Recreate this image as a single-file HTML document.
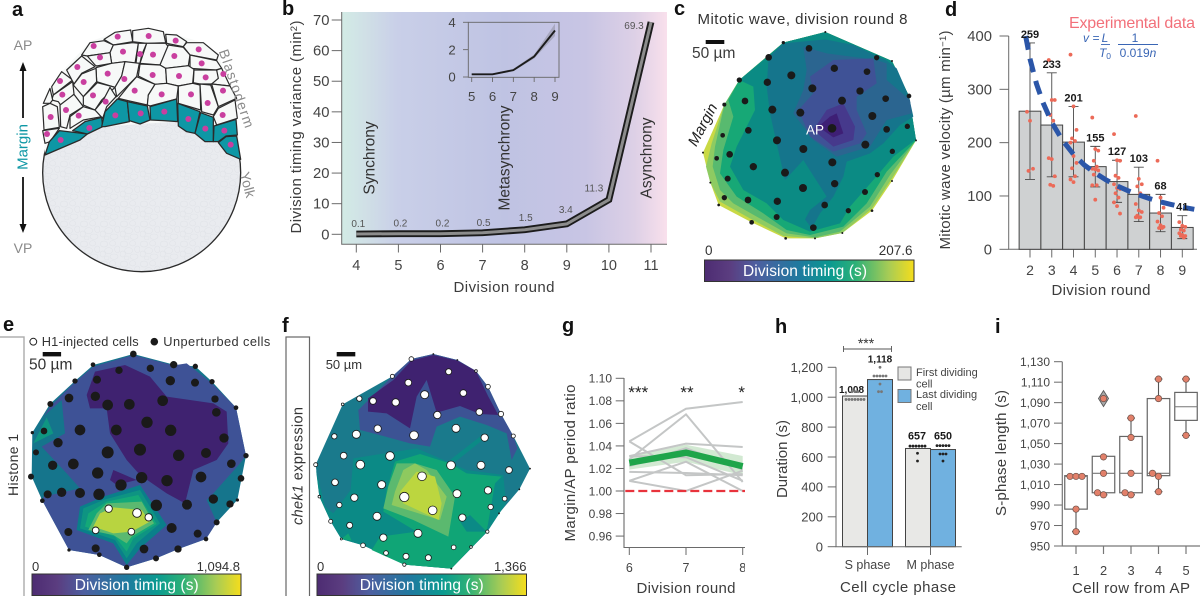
<!DOCTYPE html>
<html lang="en">
<head>
<meta charset="utf-8">
<title>Mitotic wave figure</title>
<style>
html,body{margin:0;padding:0;background:#fff;}
svg{display:block;font-family:"Liberation Sans",sans-serif;}
.cell{fill:#f7f9f8;stroke:#2b2b2b;stroke-width:3.6;stroke-linejoin:round;}
.tcell{fill:#0e97a5;stroke:#2b2b2b;stroke-width:3.8;stroke-linejoin:round;}
.nuc{fill:#c93f9f;}
.letter{font-size:20px;font-weight:700;fill:#111;}
.title{font-size:15px;fill:#3c3c3c;}
</style>
</head>
<body>
<svg id="fig" xmlns="http://www.w3.org/2000/svg" width="1200" height="596" viewBox="0 0 1200 596">
<defs>
<linearGradient id="bg-b" x1="0" x2="1" y1="0" y2="0">
<stop offset="0" stop-color="#d2ebe5"/><stop offset=".07" stop-color="#d0e0e6"/><stop offset=".17" stop-color="#c9cfe8"/><stop offset=".5" stop-color="#bfc3e3"/><stop offset=".75" stop-color="#c8c5e4"/><stop offset=".9" stop-color="#ddd0e6"/><stop offset="1" stop-color="#f9e0ec"/>
</linearGradient>
<linearGradient id="cbar" x1="0" x2="1" y1="0" y2="0">
<stop offset="0" stop-color="#4d2c72"/><stop offset=".12" stop-color="#5b3d80"/><stop offset=".25" stop-color="#4d5fa0"/><stop offset=".45" stop-color="#1f7a9f"/><stop offset=".6" stop-color="#0b9a90"/><stop offset=".72" stop-color="#2cb077"/><stop offset=".88" stop-color="#a8cc55"/><stop offset="1" stop-color="#f5dd1c"/>
</linearGradient>
<pattern id="yolk-tex" width="60" height="60" patternUnits="userSpaceOnUse">
<g fill="none" stroke="#dfe2e7" stroke-width="1.6">
<ellipse cx="12" cy="12" rx="11" ry="9"/><ellipse cx="38" cy="10" rx="9" ry="8"/><ellipse cx="52" cy="28" rx="8" ry="10"/><ellipse cx="26" cy="32" rx="12" ry="9"/><ellipse cx="8" cy="42" rx="8" ry="9"/><ellipse cx="42" cy="50" rx="12" ry="8"/><ellipse cx="20" cy="54" rx="7" ry="6"/>
</g>
</pattern>
<clipPath id="clip-g"><rect x="600" y="370" width="145" height="210"/></clipPath>
</defs>

<!-- PANEL A -->
<g>
<text class="letter" x="12" y="16">a</text>
<g transform="scale(0.33333)">
<circle cx="425" cy="518" r="297" fill="#e9ebef"/>
<circle cx="425" cy="518" r="297" fill="url(#yolk-tex)" stroke="#2b2b2b" stroke-width="4"/>
<polygon fill="#f7f9f8" points="135,465 128,320 185,215 270,125 345,97 445,85 530,105 610,128 655,165 690,258 712,355 722,478 655,428 585,400 533,365 420,372 315,380 262,402"/>
<g>
<polygon class="cell" points="312,118 345,97 392,90 398,125 340,135"/>
<polygon class="cell" points="398,92 445,85 490,95 497,128 440,130 398,125"/>
<polygon class="cell" points="497,103 530,105 560,125 550,140 500,130"/>
<polygon class="cell" points="560,128 610,128 655,165 650,180 570,165 550,140"/>
<polygon class="cell" points="312,122 340,135 330,158 262,168 245,165 270,128"/>
<polygon class="cell" points="340,135 398,128 415,130 405,190 375,185 335,190 330,158"/>
<polygon class="cell" points="415,130 440,130 425,165 420,190 408,190"/>
<polygon class="cell" points="440,130 497,130 505,140 480,195 420,190 430,160"/>
<polygon class="cell" points="505,135 550,142 570,165 565,197 497,205 480,195"/>
<polygon class="cell" points="570,165 650,182 665,205 648,210 570,205"/>
<polygon class="cell" points="262,168 330,158 335,190 290,198 285,195"/>
<polygon class="cell" points="335,190 375,185 365,228 345,262 290,245 288,203"/>
<polygon class="cell" points="375,185 418,190 410,230 385,255 350,290 345,262 365,228"/>
<polygon class="cell" points="420,192 480,195 497,205 500,250 465,253 415,228"/>
<polygon class="cell" points="497,205 565,197 582,208 578,250 535,258 500,250"/>
<polygon class="cell" points="582,210 650,210 660,240 635,252 600,252 580,248"/>
<polygon class="cell" points="650,210 665,205 690,258 635,252 655,235"/>
<polygon class="cell" points="155,260 185,215 218,240 160,285"/>
<polygon class="cell" points="200,210 245,168 285,200 245,220 222,252"/>
<polygon class="cell" points="245,222 288,205 290,245 250,290 220,255"/>
<polygon class="cell" points="160,285 218,245 222,282 185,320 175,305 155,300"/>
<polygon class="cell" points="292,248 345,262 305,300 285,330 250,315 250,290"/>
<polygon class="cell" points="180,315 222,283 250,320 210,345 200,385 182,380"/>
<polygon class="cell" points="250,320 285,330 305,350 250,360 210,385 210,350"/>
<polygon class="cell" points="330,262 348,290 320,320 308,355 285,330 310,300"/>
<polygon class="cell" points="128,320 150,310 172,320 178,382 132,390"/>
<polygon class="cell" points="130,310 150,265 158,300 150,310"/>
<polygon class="cell" points="410,230 465,253 445,285 442,315 385,302 355,295 385,258"/>
<polygon class="cell" points="465,253 500,250 535,258 530,297 450,318 442,315 445,285"/>
<polygon class="cell" points="535,258 578,250 600,255 602,330 535,310"/>
<polygon class="cell" points="600,252 632,255 655,320 640,345 605,335"/>
<polygon class="cell" points="635,252 690,258 710,295 655,320"/>
<polygon class="cell" points="655,325 705,300 712,355 650,375 640,350"/>
<polygon class="cell" points="128,392 178,385 150,425 135,430"/>
</g>
<g>
<polygon class="tcell" points="135,465 148,425 178,392 262,402 240,420"/>
<polygon class="tcell" points="218,392 255,365 305,352 308,380 262,402"/>
<polygon class="tcell" points="305,380 315,335 352,297 382,305 388,365 315,380"/>
<polygon class="tcell" points="382,305 442,318 450,360 420,372 388,362"/>
<polygon class="tcell" points="450,320 530,297 533,365 490,362 452,360"/>
<polygon class="tcell" points="533,310 600,335 585,400 560,395 535,378"/>
<polygon class="tcell" points="602,338 640,352 640,425 615,425 585,400"/>
<polygon class="tcell" points="642,378 708,358 712,405 678,408 655,425 640,425"/>
<polygon class="tcell" points="678,410 710,408 722,478 680,460 655,428"/>
</g>
<g>
<circle class="nuc" r="9" cx="353" cy="110"/><circle class="nuc" r="9" cx="446" cy="108"/><circle class="nuc" r="9" cx="527" cy="122"/><circle class="nuc" r="9" cx="596" cy="148"/><circle class="nuc" r="9" cx="281" cy="138"/><circle class="nuc" r="9" cx="369" cy="155"/><circle class="nuc" r="9" cx="420" cy="162"/><circle class="nuc" r="9" cx="459" cy="164"/><circle class="nuc" r="9" cx="523" cy="168"/><circle class="nuc" r="9" cx="605" cy="190"/><circle class="nuc" r="9" cx="300" cy="172"/><circle class="nuc" r="9" cx="232" cy="201"/><circle class="nuc" r="9" cx="323" cy="221"/><circle class="nuc" r="9" cx="373" cy="237"/><circle class="nuc" r="9" cx="458" cy="225"/><circle class="nuc" r="9" cx="537" cy="228"/><circle class="nuc" r="9" cx="617" cy="232"/><circle class="nuc" r="9" cx="670" cy="222"/><circle class="nuc" r="9" cx="180" cy="243"/><circle class="nuc" r="9" cx="251" cy="246"/><circle class="nuc" r="9" cx="187" cy="284"/><circle class="nuc" r="9" cx="279" cy="286"/><circle class="nuc" r="9" cx="317" cy="305"/><circle class="nuc" r="9" cx="404" cy="272"/><circle class="nuc" r="9" cx="485" cy="283"/><circle class="nuc" r="9" cx="573" cy="283"/><circle class="nuc" r="9" cx="669" cy="272"/><circle class="nuc" r="9" cx="623" cy="309"/><circle class="nuc" r="9" cx="198" cy="330"/><circle class="nuc" r="9" cx="236" cy="347"/><circle class="nuc" r="9" cx="152" cy="351"/><circle class="nuc" r="9" cx="668" cy="345"/><circle class="nuc" r="9" cx="141" cy="402"/><circle class="nuc" r="9" cx="182" cy="420"/><circle class="nuc" r="9" cx="268" cy="384"/><circle class="nuc" r="9" cx="346" cy="346"/><circle class="nuc" r="9" cx="422" cy="340"/><circle class="nuc" r="9" cx="493" cy="335"/><circle class="nuc" r="9" cx="565" cy="357"/><circle class="nuc" r="9" cx="616" cy="386"/><circle class="nuc" r="9" cx="673" cy="392"/><circle class="nuc" r="9" cx="692" cy="434"/>
</g>
</g>
<text x="23" y="50" font-size="14" fill="#8a8a8a" text-anchor="middle">AP</text>
<text x="23" y="253" font-size="14" fill="#8a8a8a" text-anchor="middle">VP</text>
<text transform="translate(27.5 147) rotate(-90)" font-size="15" fill="#0e97a5" text-anchor="middle">Margin</text>
<g fill="#111" stroke="#111">
<line x1="23" y1="118" x2="23" y2="68" stroke-width="1.8"/><polygon points="23,62 19.5,71 26.5,71" stroke="none"/>
<line x1="23" y1="177" x2="23" y2="227" stroke-width="1.8"/><polygon points="23,233 19.5,224 26.5,224" stroke="none"/>
</g>
<text transform="translate(232 90) rotate(71)" font-size="14" fill="#8a8a8a" text-anchor="middle" textLength="82">Blastoderm</text>
<text transform="translate(243 186) rotate(75)" font-size="14" fill="#8a8a8a" text-anchor="middle">Yolk</text>
</g>

<!-- PANEL B -->
<g id="panel-b">
<text class="letter" x="282" y="15">b</text>
<rect x="342" y="12" width="325" height="232" fill="url(#bg-b)"/>
<text transform="translate(374.5 158) rotate(-90)" font-size="15.5" fill="#333" text-anchor="middle">Synchrony</text>
<text transform="translate(509.5 158) rotate(-90)" font-size="15.5" fill="#333" text-anchor="middle">Metasynchrony</text>
<text transform="translate(651.5 158) rotate(-90)" font-size="15.5" fill="#333" text-anchor="middle">Asynchrony</text>
<text class="title" transform="translate(301 127) rotate(-90)" text-anchor="middle" textLength="213">Division timing variance (min<tspan dy="-4" font-size="9.5">2</tspan><tspan dy="4">)</tspan></text>
<text class="title" x="504" y="292" text-anchor="middle" textLength="101">Division round</text>
</g>

<!-- PANEL C -->
<g id="panel-c">
<text class="letter" x="674" y="15">c</text>
<text x="697.5" y="24" font-size="15" fill="#333" textLength="210">Mitotic wave, division round 8</text>
<g transform="translate(670 0) scale(0.33333)">
<polygon fill="#c9d945" points="466,96 340,128 208,240 163,314 99,458 121,548 146,615 245,667 347,715 435,715 517,699 606,632 666,543 738,421 717,288 666,183"/>
<polygon fill="#8ecb62" points="466,96 340,128 208,240 163,314 125,430 108,500 121,548 150,605 245,658 340,708 435,715 517,699 606,625 666,535 738,421 717,288 666,183"/>
<polygon fill="#58ba6f" points="466,96 340,128 208,240 163,314 135,440 128,500 150,570 190,610 260,650 350,700 435,712 510,695 600,620 660,525 738,421 717,288 666,183"/>
<polygon fill="#17a876" points="466,96 340,128 208,240 175,300 190,350 160,450 150,520 200,590 280,640 350,690 420,705 520,680 590,610 650,515 738,421 717,288 666,183"/>
<polygon fill="#0b8b84" points="466,96 340,128 290,172 208,240 250,260 255,330 240,360 200,440 180,500 220,570 290,610 340,660 420,695 510,670 540,620 610,540 670,470 738,418 717,288 666,183"/>
<polygon fill="#15758c" points="296,172 340,130 466,118 550,135 650,182 680,205 717,290 730,350 690,375 640,430 600,460 530,485 520,530 490,590 450,640 425,685 405,658 420,630 470,590 400,480 345,540 320,430 300,340 290,260"/>
<polygon fill="#2b6590" points="400,140 470,160 620,180 650,190 650,240 720,300 725,340 650,360 600,440 500,470 430,420 370,340 400,270 410,210"/>
<polygon fill="#3f5296" points="420,230 490,180 610,175 620,250 560,290 560,330 590,400 570,430 490,455 420,410 385,330 430,280"/>
<polygon fill="#46398c" points="520,310 555,380 550,420 490,440 430,390 470,330"/>
<polygon fill="#3e1f75" points="500,340 520,400 490,412 445,380 480,350"/>
</g>
<rect x="705.7" y="40" width="18.6" height="4" fill="#111"/>
<text class="title" x="692" y="58" style="font-size:15.5px">50 µm</text>
<text transform="translate(707 127) rotate(-62)" font-size="15" font-style="italic" fill="#222" text-anchor="middle">Margin</text>
<g id="c-dots"></g>
<text x="815" y="131" font-size="13.5" fill="#fff" text-anchor="middle" dominant-baseline="middle">AP</text>
<text x="705" y="255" font-size="13.5" fill="#333">0</text>
<text x="912.5" y="255" font-size="13.5" fill="#333" text-anchor="end">207.6</text>
<rect x="704.5" y="260" width="209.5" height="21.5" fill="url(#cbar)" stroke="#333" stroke-width="1"/>
<text x="805" y="276" font-size="15.5" fill="#fff" text-anchor="middle" textLength="124">Division timing (s)</text>
</g>

<!-- PANEL D -->
<g id="panel-d">
<text class="letter" x="945" y="16">d</text>
<text class="title" transform="translate(950 140) rotate(-90)" text-anchor="middle" textLength="219">Mitotic wave velocity (µm min<tspan dy="-4" font-size="9.5">−1</tspan><tspan dy="4">)</tspan></text>
<text class="title" x="1101" y="295" text-anchor="middle" textLength="99">Division round</text>
<text x="1069" y="28" font-size="16" fill="#f2707a" textLength="126">Experimental data</text>
<g fill="#3a66b5" font-size="12">
<text x="1083" y="42" font-style="italic">v =</text>
<text x="1105" y="42" font-style="italic" text-anchor="middle">L</text>
<line x1="1101" x2="1110" y1="44.5" y2="44.5" stroke="#3a66b5" stroke-width=".9"/>
<text x="1105" y="57" font-style="italic" text-anchor="middle">T<tspan font-size="8.5" dy="2" font-style="normal">0</tspan></text>
<text x="1135" y="42" text-anchor="middle">1</text>
<line x1="1118" x2="1158" y1="44.5" y2="44.5" stroke="#3a66b5" stroke-width=".9"/>
<text x="1138" y="57" text-anchor="middle">0.019<tspan font-style="italic">n</tspan></text>
</g>
</g>

<!-- PANEL E -->
<g id="panel-e">
<text class="letter" x="3" y="331">e</text>
<rect x="-2" y="337" width="26" height="262" fill="#fff" stroke="#aaa" stroke-width="1.4"/>
<text transform="translate(18 465) rotate(-90)" font-size="14" fill="#333" text-anchor="middle" textLength="62">Histone 1</text>
<g transform="translate(0 300) scale(0.33333)">
<polygon fill="#15758c" points="400,162 280,195 225,243 150,312 97,398 95,530 127,602 207,750 298,765 380,802 468,775 535,747 618,717 650,667 712,600 738,467 708,323 636,245 586,199 521,194"/>
<polygon fill="#0f9682" points="140,352 100,430 160,400"/>
<polygon fill="#3e5296" points="400,165 280,200 225,246 150,320 130,350 185,300 195,400 125,440 200,520 240,565 130,590 127,602 207,750 298,765 380,802 468,775 535,747 618,717 650,667 620,600 640,580 720,490 738,467 708,323 636,250 560,190 521,196"/>
<polygon fill="#3f2270" points="375,195 285,215 260,285 270,325 320,325 330,400 380,480 420,525 500,580 555,610 580,510 650,480 685,430 680,335 640,310 500,290 450,230"/>
<polygon fill="#3f2270" points="340,510 410,540 350,555 330,540"/>
<polygon fill="#0a7f8a" points="420,555 500,675 420,745 380,795 340,730 230,690 240,620 310,590"/>
<polygon fill="#0e9482" points="420,570 480,670 410,730 380,775 345,720 240,685 250,625 315,598"/>
<polygon fill="#14a978" points="415,585 470,672 400,715 380,755 345,710 255,680 265,640 320,605"/>
<polygon fill="#5bb970" points="425,605 462,670 395,710 380,730 340,705 265,690 290,640 320,610"/>
<polygon fill="#b8d440" points="340,622 425,630 450,665 395,695 340,700 280,680 300,640"/>
</g>
<g id="e-dots"></g>
<circle cx="33.3" cy="341.7" r="3.4" fill="#fff" stroke="#222" stroke-width="1"/>
<text x="41.7" y="346" font-size="12.8" fill="#333" textLength="97">H1-injected cells</text>
<circle cx="154.3" cy="341.7" r="3.8" fill="#1a1a1a"/>
<text x="163.3" y="346" font-size="12.8" fill="#333" textLength="107">Unperturbed cells</text>
<rect x="42.7" y="352" width="18.4" height="4.4" fill="#111"/>
<text x="29" y="369.5" font-size="15.5" fill="#333">50 µm</text>
<text x="32" y="571" font-size="13" fill="#333">0</text>
<text x="240" y="571" font-size="13" fill="#333" text-anchor="end">1,094.8</text>
<rect x="32" y="574" width="209" height="21.5" fill="url(#cbar)" stroke="#333" stroke-width="1"/>
<text x="136.7" y="590" font-size="15.5" fill="#fff" text-anchor="middle" textLength="124">Division timing (s)</text>
</g>

<!-- PANEL F -->
<g id="panel-f">
<text class="letter" x="282" y="332">f</text>
<rect x="286" y="337" width="23.5" height="262" fill="#fff" stroke="#666" stroke-width="1.2"/>
<text transform="translate(302.5 466) rotate(-90)" font-size="14.5" fill="#333" text-anchor="middle" textLength="118"><tspan font-style="italic">chek1</tspan> expression</text>
<g transform="translate(280 300) scale(0.33333)">
<polygon fill="#1a7a8c" points="394,177 460,162 532,180 588,213 624,260 663,342 700,408 750,506 718,568 657,640 622,695 514,806 373,794 250,736 184,717 152,664 118,590 107,494 188,313 337,229"/>
<polygon fill="#3c5394" points="337,229 394,177 460,162 532,180 588,213 624,260 663,342 700,408 712,445 695,480 680,400 620,375 540,350 470,380 450,440 390,430 280,400 240,390 235,330"/>
<polygon fill="#3f2270" points="264,295 340,240 394,182 460,165 532,182 588,213 625,290 655,345 600,342 540,318 470,338 440,240 410,290 390,385 320,340 264,335"/>
<polygon fill="#0b8a86" points="108,510 135,620 160,640 212,570 220,475 410,445 515,490 560,510 670,525 678,610 622,695 514,806 373,794 250,736 184,717 152,664 118,590"/>
<polygon fill="#0b8a86" points="510,480 600,410 608,420 520,490"/>
<polygon fill="#10a576" points="345,485 420,462 510,490 560,520 665,530 645,550 620,695 514,806 373,794 275,750 300,710 410,695 310,635 320,570"/>
<polygon fill="#0b8a86" points="540,665 570,645 620,695 560,695"/>
<polygon fill="#10a576" points="184,717 205,700 215,722"/>
<polygon fill="#5bb96f" points="350,490 405,490 470,510 525,590 505,710 400,660 310,625 325,560"/>
<polygon fill="#8ec95f" points="370,510 405,490 440,510 500,590 480,660 335,615 345,575"/>
<polygon fill="#bcd63f" points="410,515 465,530 485,610 476,660 370,610 360,575"/>
</g>
<g id="f-dots"></g>
<rect x="336.7" y="352" width="18.6" height="4.4" fill="#111"/>
<text x="325.7" y="369" font-size="13" fill="#333">50 µm</text>
<text x="317" y="571" font-size="13" fill="#333">0</text>
<text x="526.5" y="571" font-size="13" fill="#333" text-anchor="end">1,366</text>
<rect x="317" y="574" width="209.5" height="21.5" fill="url(#cbar)" stroke="#333" stroke-width="1"/>
<text x="421.7" y="590" font-size="15.5" fill="#fff" text-anchor="middle" textLength="124">Division timing (s)</text>
</g>

<!-- PANEL G -->
<g id="panel-g">
<text class="letter" x="562" y="332">g</text>
<text class="title" transform="translate(575 463) rotate(-90)" text-anchor="middle" textLength="157">Margin/AP period ratio</text>
<text class="title" x="686" y="593" text-anchor="middle" textLength="99">Division round</text>
</g>

<!-- PANEL H -->
<g id="panel-h">
<text class="letter" x="775" y="333">h</text>
<text class="title" transform="translate(787 459) rotate(-90)" text-anchor="middle" textLength="78">Duration (s)</text>
<text class="title" x="898" y="592" text-anchor="middle" textLength="116">Cell cycle phase</text>
<path d="M843.5 352V346M843.5 349H891.5M891.5 352V346" fill="none" stroke="#555" stroke-width=".9"/>
<text x="866" y="348" font-size="14" fill="#333" text-anchor="middle">***</text>
<rect x="898" y="367" width="13" height="13" fill="#e6e6e4" stroke="#777"/>
<rect x="898" y="389.5" width="13" height="13" fill="#70b1e0" stroke="#777"/>
<text font-size="11" fill="#444" x="916" y="376">First dividing<tspan x="916" dy="11.5">cell</tspan></text>
<text font-size="11" fill="#444" x="916" y="398">Last dividing<tspan x="916" dy="12">cell</tspan></text>
</g>

<!-- PANEL I -->
<g id="panel-i">
<text class="letter" x="995" y="333">i</text>
<text class="title" transform="translate(1006 453) rotate(-90)" text-anchor="middle" textLength="126">S-phase length (s)</text>
<text class="title" x="1131" y="593" text-anchor="middle" textLength="118">Cell row from AP</text>
</g>
</svg>

<script>
/* ---------- panel b data ---------- */
var bRounds = [4,5,6,7,8,9,10,11];
var bVariance = [0.1,0.2,0.2,0.5,1.5,3.4,11.3,69.3];
var bValueLabels = ['0.1','0.2','0.2','0.5','1.5','3.4','11.3','69.3'];
var bYTicks = [0,10,20,30,40,50,60,70];
var insetRounds = [5,6,7,8,9];
var insetVariance = [0.2,0.2,0.5,1.5,3.4];
var insetLow = [0.15,0.15,0.42,1.35,3.0];
var insetHigh = [0.25,0.25,0.6,1.65,3.9];
var insetYTicks = [0,2,4];

/* ---------- panel c/e/f cell positions (field coordinates) and nucleus sizes ---------- */
var cFieldX = [466,340,417,296,620,666,493,364,591,208,292,427,570,717,225,163,516,647,307,391,607,486,650,712,235,158,321,738,400,586,667,99,179,140,487,250,345,622,173,121,494,666,399,585,163,234,322,464,146,535,606,320,245,430,517,347,435];
var cFieldY = [96,128,145,172,173,183,205,226,215,240,247,265,273,288,303,314,302,296,329,338,348,385,388,379,391,406,421,421,447,434,454,458,463,475,487,500,518,524,536,548,551,543,564,576,593,600,604,615,615,632,632,651,667,683,699,715,715];
var cNucleus = [3,5,10,10,8,3,11,12,10,8,11,12,11,7,10,6,12,10,12,12,12,13,10,8,10,7,12,3,12,12,8,3,10,7,12,11,12,8,9,3,11,3,12,9,8,10,11,10,4,8,4,9,7,10,3,4,3];

var eFieldX = [400,279,357,451,521,586,225,291,511,585,636,207,286,645,151,323,388,488,708,649,97,132,240,349,441,512,672,174,420,323,536,618,108,738,158,220,694,293,93,425,501,603,723,363,143,185,240,297,127,469,561,640,690,712,650,515,205,593,618,287,432,534,207,298,468,380];
var eFieldY = [162,194,211,205,194,199,243,239,242,248,245,294,289,297,312,315,313,302,323,337,398,393,390,390,367,391,414,428,449,457,466,459,457,467,496,492,491,519,530,533,542,531,535,555,583,577,579,583,602,616,614,597,612,600,667,684,696,701,717,745,747,747,750,764,775,802];
var eNucleus = [10,7,11,11,11,8,8,12,14,12,8,13,14,11,9,16,16,16,7,13,5,10,16,16,17,17,14,14,18,18,17,15,9,8,14,16,13,17,9,17,17,16,10,17,12,14,15,17,7,17,15,14,11,5,9,15,12,12,7,12,13,11,5,7,9,8];
var eInjectedX = [326,411,446,287,394];
var eInjectedY = [626,639,652,691,695];
var eInjectedNucleus = [11,13,11,10,10];

var fFieldX = [394,506,337,385,624,434,550,238,279,347,188,598,663,472,293,528,229,402,163,614,700,191,330,107,241,513,603,687,426,165,305,531,624,373,223,118,674,178,632,458,291,547,152,209,622,414,310,184,249,521,573,318,378,445,373,588];
var fFieldY = [177,215,229,248,260,284,279,296,303,307,313,336,342,345,386,385,403,406,409,413,408,467,468,494,494,496,496,510,529,547,554,581,571,591,593,590,596,615,621,631,649,653,664,676,695,700,713,717,736,742,741,759,769,773,794,213];
var fNucleus = [7,9,6,10,7,12,10,8,10,11,4,10,8,11,11,12,12,13,8,11,6,10,13,6,13,13,12,10,13,10,12,12,11,14,11,4,7,8,8,13,12,11,6,9,5,12,11,3,7,7,4,7,9,9,5,4];
var fDimX = [460,532,750,718,657,514];
var fDimY = [162,180,506,568,640,806];

/* ---------- panel d data ---------- */
var dRounds = [2,3,4,5,6,7,8,9];
var dMeans = [259,233,201,155,127,103,68,41];
var dErrLow = [131,136,136,117,88,52,33,20];
var dErrHigh = [387,331,268,193,167,154,103,63];
var dYTicks = [0,100,200,300,400];
var dScatter2 = [258,241,151,147];
var dScatter3 = [355,280,280,252,241,171,169,137,121,119];
var dScatter4 = [365,268,224,208,203,200,175,162,152,137,131,126];
var dScatter5 = [247,188,185,166,155,151,150,148,140,120,120,93];
var dScatter6 = [216,167,166,138,134,122,115,113,105,97,88,81,67];
var dScatter7 = [250,132,122,118,105,85,73,70,63,60,60,60];
var dScatter8 = [166,97,78,68,62,52,45,42,40,40];
var dScatter9 = [51,44,42,37,35,30,27,25,25,22];
var dFitRounds = [1.8,2,2.3,2.6,3,3.5,4,4.5,5,5.5,6,6.5,7,7.5,8,8.5,9,9.55];
var dFitValues = [400,357,310,275,238,204,178,158,143,130,119,110,102,95,89,84,79,75];

/* ---------- panel g data ---------- */
var gRounds = [6,7,8];
var gYTicks = [0.96,0.98,1.00,1.02,1.04,1.06,1.08,1.10];
var gEmbryoA = [1.044,1.073,1.079];
var gEmbryoB = [1.028,1.068,1.008];
var gEmbryoC = [1.044,1.014,1.015];
var gEmbryoD = [1.031,1.042,1.039];
var gEmbryoE = [1.031,1.030,1.009];
var gEmbryoF = [1.017,1.016,1.014];
var gEmbryoG = [1.009,1.026,1.000];
var gEmbryoH = [1.009,1.000,1.018];
var gEmbryoI = [1.022,1.038,1.019];
var gMean = [1.025,1.034,1.022];
var gBandLow = [1.019,1.026,1.014];
var gBandHigh = [1.031,1.041,1.031];
var gStars = ['***','**','*'];

/* ---------- panel h data ---------- */
var hPhases = ['S phase','M phase'];
var hYTicks = [0,200,400,600,800,1000,1200];
var hTickLabels = ['0','200','400','600','800','1,000','1,200'];
var hFirstMeans = [1008,657];
var hLastMeans = [1118,650];
var hFirstLabels = ['1,008','657'];
var hLastLabels = ['1,118','650'];
var hSFirst = [985,985,985,985,985,985,985,1037,1037,1037];
var hSLast = [1200,1142,1142,1142,1142,1142,1088,1037,1037];
var hMFirst = [673,673,673,673,673,673,625,573];
var hMLast = [676,676,676,676,676,620,620,620,573];

/* ---------- panel i data ---------- */
var iRows = [1,2,3,4,5];
var iYTicks = [950,970,990,1010,1030,1050,1070,1090,1110,1130];
var iTickLabels = ['950','970','990','1,010','1,030','1,050','1,070','1,090','1,110','1,130'];
var iQ1 = [986,1002,1002,1018.7,1072.7];
var iMedian = [1018,1021,1021,1021,1086];
var iQ3 = [1018.7,1037.6,1057,1094,1100];
var iWhiskLow = [964,1000,1000,1003,1058];
var iWhiskHigh = [1018.7,1037.6,1075,1113,1113];
var iRow1 = [1018,1018,1018,986,964];
var iRow2 = [1094,1037,1021,1002,1000];
var iRow3 = [1075,1056,1021,1002,1000];
var iRow4 = [1113,1094,1021,1018,1003];
var iRow5 = [1113,1058];
var iOutlierRows = [2];
var iOutlierValues = [1094];

/* ---------- helpers ---------- */
var NS = 'http://www.w3.org/2000/svg';
var svgRoot = document.getElementById('fig');
function mk(tag, parent, attrs){
  var n = document.createElementNS(NS, tag);
  for (var k in attrs) n.setAttribute(k, attrs[k]);
  parent.appendChild(n);
  return n;
}
function label(parent, x, y, s, size, fill, anchor, weight){
  var t = mk('text', parent, {x:x, y:y, 'font-size':size, fill:fill, 'text-anchor':anchor||'middle'});
  if (weight) t.setAttribute('font-weight', weight);
  t.textContent = s;
  return t;
}
function pathFrom(xs, ys, fx, fy){
  return xs.map(function(v,i){return (i?'L':'M')+fx(v).toFixed(2)+' '+fy(ys[i]).toFixed(2);}).join('');
}
function linear(d0,d1,r0,r1){return function(v){return r0+(v-d0)*(r1-r0)/(d1-d0);};}

var TICK = '#6a6a6a', LABEL = '#444';

/* ---------- panel b ---------- */
(function(){
  var g = document.getElementById('panel-b');
  var fx = linear(4,11,356.3,651), fy = linear(0,70,234.3,20);
  var axes = mk('path', g, {d:'M341.7 12V244.3H667', fill:'none', stroke:TICK, 'stroke-width':1});
  
  
  bYTicks.forEach(function(v){
    var t = mk('line', g, {x1:331.7, x2:341.7, y1:fy(v), y2:fy(v), stroke:TICK, 'stroke-width':1});
    
    
    var l = label(g, 329.5, fy(v)+5, String(v), 14.8, LABEL, 'end');
    
    
  });
  bRounds.forEach(function(v){
    var t = mk('line', g, {x1:fx(v), x2:fx(v), y1:244.3, y2:252.5, stroke:TICK, 'stroke-width':1});
    
    
    var l = label(g, fx(v), 270, String(v), 14.5, LABEL);
    
    
  });
  var d = pathFrom(bRounds, bVariance, fx, fy);
  var outer = mk('path', g, {d:d, fill:'none', stroke:'#1c1c1c', 'stroke-width':6.8, 'stroke-linejoin':'miter'});
  
  
  var inner = mk('path', g, {d:d, fill:'none', stroke:'#8c8c8c', 'stroke-width':3, 'stroke-linejoin':'miter'});
  
  
  bRounds.forEach(function(r,i){
    var isLast = i === bRounds.length-1, is10 = i === bRounds.length-2;
    var lx = isLast ? fx(r)-17 : is10 ? fx(r)-15 : fx(r)+(i<3?2:i<5?1:-1);
    var ly = isLast ? fy(bVariance[i])+7 : is10 ? fy(bVariance[i])-8 : fy(bVariance[i])-7-(i>=4?bVariance[i]*1.2:0);
    var l = label(g, lx, ly, bValueLabels[i], 10, '#555');
    
    
  });
  /* inset */
  var ix = linear(5,9,471.7,555), iy = linear(0,4,77,22.3);
  var inset = mk('g', g, {});
  
  
  var frame = mk('rect', inset, {x:468.3, y:22.3, width:90.7, height:55, fill:'none', stroke:'#666', 'stroke-width':.9});
  
  
  var upper = insetRounds.map(function(v,i){return ix(v).toFixed(2)+','+iy(insetHigh[i]).toFixed(2);});
  var lower = insetRounds.map(function(v,i){return ix(v).toFixed(2)+','+iy(insetLow[i]).toFixed(2);}).reverse();
  var band = mk('polygon', inset, {points:upper.concat(lower).join(' '), fill:'#8f8f9e', 'fill-opacity':.55});
  
  
  var il = mk('path', inset, {d:pathFrom(insetRounds, insetVariance, ix, iy), fill:'none', stroke:'#1c1c1c', 'stroke-width':1.9});
  
  
  insetYTicks.forEach(function(v){
    var t = mk('line', inset, {x1:463, x2:468.3, y1:iy(v), y2:iy(v), stroke:TICK, 'stroke-width':.9});
    
    
    var l = label(inset, 452, iy(v)+4.7, String(v), 13.2, LABEL);
    
    
  });
  insetRounds.forEach(function(v){
    var t = mk('line', inset, {x1:ix(v), x2:ix(v), y1:77.3, y2:82, stroke:TICK, 'stroke-width':.9});
    
    
    var l = label(inset, ix(v), 101, String(v), 13.2, LABEL);
    
    
  });
})();

/* ---------- contour map dots ---------- */
function mapX(ox){return function(v){return ox+v/3;};}
function mapY(oy){return function(v){return oy+v/3;};}
(function(){
  var cg = document.getElementById('c-dots');
  var fx = mapX(670), fy = mapY(0);
  cFieldX.forEach(function(v,i){
    var c = mk('circle', cg, {cx:fx(v), cy:fy(cFieldY[i]), r:cNucleus[i]/3, fill:'#1a1a1a'});
    
    
  });
  var eg = document.getElementById('e-dots');
  var ex = mapX(0), ey = mapY(300);
  eFieldX.forEach(function(v,i){
    var c = mk('circle', eg, {cx:ex(v), cy:ey(eFieldY[i]), r:eNucleus[i]/3, fill:'#1a1a1a'});
    
    
  });
  eInjectedX.forEach(function(v,i){
    var c = mk('circle', eg, {cx:ex(v), cy:ey(eInjectedY[i]), r:eInjectedNucleus[i]/3, fill:'#fff', stroke:'#1a1a1a', 'stroke-width':.9});
    
    
  });
  var fg = document.getElementById('f-dots');
  var gx = mapX(280), gy = mapY(300);
  fFieldX.forEach(function(v,i){
    var c = mk('circle', fg, {cx:gx(v), cy:gy(fFieldY[i]), r:fNucleus[i]/3, fill:'#fff', stroke:'#1a1a1a', 'stroke-width':.8});
    
    
  });
  fDimX.forEach(function(v,i){
    var c = mk('circle', fg, {cx:gx(v), cy:gy(fDimY[i]), r:.9, fill:'#1a1a1a'});
    
    
  });
})();

/* ---------- panel d ---------- */
(function(){
  var g = document.getElementById('panel-d');
  var fx = linear(2,9,1030,1182.3), fy = linear(0,400,249.3,36), bw = 21.76;
  var axes = mk('path', g, {d:'M1008.7 36V249.3H1197', fill:'none', stroke:TICK, 'stroke-width':1});
  
  
  dYTicks.forEach(function(v){
    var t = mk('line', g, {x1:999.5, x2:1008.7, y1:fy(v), y2:fy(v), stroke:TICK, 'stroke-width':1});
    
    
    var l = label(g, 992, fy(v)+5, String(v), 14.8, LABEL, 'end');
    
    
  });
  dRounds.forEach(function(r,i){
    var t = mk('line', g, {x1:fx(r), x2:fx(r), y1:249.3, y2:257.5, stroke:TICK, 'stroke-width':1});
    
    
    var tl = label(g, fx(r), 275, String(r), 14, LABEL);
    
    
    var b = mk('rect', g, {x:fx(r)-bw/2, y:fy(dMeans[i]), width:bw, height:fy(0)-fy(dMeans[i]), fill:'#cfd1d2', stroke:'#444', 'stroke-width':1});
    
    
  });
  dRounds.forEach(function(r,i){
    var e = mk('path', g, {d:'M'+(fx(r)-5)+' '+fy(dErrLow[i])+'h10M'+fx(r)+' '+fy(dErrLow[i])+'V'+fy(dErrHigh[i])+'M'+(fx(r)-5)+' '+fy(dErrHigh[i])+'h10', fill:'none', stroke:'#4a4a4a', 'stroke-width':.9});
    
    
  });
  var scatters = [dScatter2,dScatter3,dScatter4,dScatter5,dScatter6,dScatter7,dScatter8,dScatter9];
  scatters.forEach(function(arr,k){
    arr.forEach(function(v,i){
      var off = ((i*7)%5-2)*1.5;
      var c = mk('circle', g, {cx:fx(dRounds[k])+off, cy:fy(v), r:1.9, fill:'#ec6a58'});
      
      
    });
  });
  var fit = mk('path', g, {d:pathFrom(dFitRounds, dFitValues, fx, fy), fill:'none', stroke:'#2b56a8', 'stroke-width':5, 'stroke-dasharray':'14 9'});
  
  
  dRounds.forEach(function(r,i){
    var l = label(g, fx(r), fy(dErrHigh[i])-5, String(dMeans[i]), 11, '#1a1a1a', 'middle', '700');
    
    
  });
})();

/* ---------- panel g ---------- */
(function(){
  var g = document.getElementById('panel-g');
  var fx = linear(6,8,629.3,742.7), fy = linear(1,1.1,491,378.3);
  var clip = mk('g', g, {'clip-path':'url(#clip-g)'});
  
  
  var axes = mk('path', clip, {d:'M624 378V547.5H745', fill:'none', stroke:TICK, 'stroke-width':1.1});
  
  
  gYTicks.forEach(function(v){
    var t = mk('line', g, {x1:615.7, x2:624, y1:fy(v), y2:fy(v), stroke:TICK, 'stroke-width':1});
    
    
    var l = label(g, 612, fy(v)+4.4, v.toFixed(2), 12, LABEL, 'end');
    
    
  });
  gRounds.forEach(function(r){
    var t = mk('line', clip, {x1:fx(r), x2:fx(r), y1:547.5, y2:555, stroke:TICK, 'stroke-width':1});
    
    
    var l = label(clip, fx(r), 572, String(r), 12.5, LABEL);
    
    
  });
  var upper = gRounds.map(function(r,i){return fx(r).toFixed(2)+','+fy(gBandHigh[i]).toFixed(2);});
  var lower = gRounds.map(function(r,i){return fx(r).toFixed(2)+','+fy(gBandLow[i]).toFixed(2);}).reverse();
  var band = mk('polygon', clip, {points:upper.concat(lower).join(' '), fill:'#bfe0bf', 'fill-opacity':.7});
  
  
  [gEmbryoA,gEmbryoB,gEmbryoC,gEmbryoD,gEmbryoE,gEmbryoF,gEmbryoG,gEmbryoH,gEmbryoI].forEach(function(series){
    var p = mk('path', clip, {d:pathFrom(gRounds, series, fx, fy), fill:'none', stroke:'#c4c6c6', 'stroke-width':2});
    
    
  });
  var red = mk('line', clip, {x1:fx(6)-4, x2:745, y1:fy(1), y2:fy(1), stroke:'#e8333c', 'stroke-width':2.2, 'stroke-dasharray':'9 4'});
  
  
  var mean = mk('path', clip, {d:pathFrom(gRounds, gMean, fx, fy), fill:'none', stroke:'#1ea54a', 'stroke-width':6.4});
  
  
  gRounds.forEach(function(r,i){
    var off = i===0 ? 9 : i===1 ? 1 : -1;
    var s = label(clip, fx(r)+off, 398, gStars[i], 17, '#222');
    
    
  });
})();

/* ---------- panel h ---------- */
(function(){
  var g = document.getElementById('panel-h');
  var fy = linear(0,1200,546.7,367.3);
  var groupX = linear(0,1,867.5,930.5), bw = 25;
  hYTicks.forEach(function(v,i){
    var t = mk('line', g, {x1:827.7, x2:836, y1:fy(v), y2:fy(v), stroke:TICK, 'stroke-width':1});
    
    
    var l = label(g, 823, fy(v)+4.8, hTickLabels[i], 13, LABEL, 'end');
    
    
  });
  hPhases.forEach(function(p,i){
    var c = groupX(i);
    var b1 = mk('rect', g, {x:c-bw, y:fy(hFirstMeans[i]), width:bw, height:fy(0)-fy(hFirstMeans[i]), fill:'#e8e8e6', stroke:'#444', 'stroke-width':1});
    
    
    var b2 = mk('rect', g, {x:c, y:fy(hLastMeans[i]), width:bw, height:fy(0)-fy(hLastMeans[i]), fill:'#70b1e0', stroke:'#444', 'stroke-width':1});
    
    
    var t = mk('line', g, {x1:c, x2:c, y1:546.7, y2:555, stroke:TICK, 'stroke-width':1});
    
    
    var l = label(g, c, 569, p, 12.5, LABEL);
    
    
    var v1 = label(g, c-(i?13.5:16), fy(hFirstMeans[i])-(i?9:3), hFirstLabels[i], i?10.8:10, '#1a1a1a', 'middle', '700');
    
    
    var v2 = label(g, c+12.5, i?fy(hFirstMeans[i])-9:fy(hLastMeans[i])-17, hLastLabels[i], i?10.8:10, '#1a1a1a', 'middle', '700');
    
    
  });
  var axes = mk('path', g, {d:'M836 367.3V546.7H961.7', fill:'none', stroke:TICK, 'stroke-width':1});
  
  
  var sets = [[hSFirst,groupX(0)-12.5,'#777'],[hSLast,groupX(0)+12.5,'#777'],[hMFirst,groupX(1)-13,'#222'],[hMLast,groupX(1)+12.5,'#222']];
  sets.forEach(function(s){
    var arr = s[0];
    arr.forEach(function(v,i){
      var same = arr.filter(function(w){return w===v;}).length;
      var idx = arr.slice(0,i).filter(function(w){return w===v;}).length;
      var c = mk('circle', g, {cx:s[1]+(idx-(same-1)/2)*3, cy:fy(v), r:1.4, fill:s[2]});
      
      
    });
  });
})();

/* ---------- panel i ---------- */
(function(){
  var g = document.getElementById('panel-i');
  var fx = linear(1,5,1076,1186), fy = linear(950,1130,546,361.7), bw = 22.5;
  iYTicks.forEach(function(v,i){
    var t = mk('line', g, {x1:1054, x2:1062.3, y1:fy(v), y2:fy(v), stroke:TICK, 'stroke-width':1});
    
    
    var l = label(g, 1050, fy(v)+4.3, iTickLabels[i], 12, LABEL, 'end');
    
    
  });
  var axes = mk('path', g, {d:'M1062.3 361.7V546H1200', fill:'none', stroke:'#777', 'stroke-width':1.2});
  
  
  iOutlierRows.forEach(function(r,i){
    var x = fx(r), y = fy(iOutlierValues[i]);
    var d = mk('polygon', g, {points:x+','+(y-8)+' '+(x+5)+','+y+' '+x+','+(y+8)+' '+(x-5)+','+y, fill:'#a8a8a8', stroke:'#555', 'stroke-width':.9});
    
    
  });
  var rows = [iRow1,iRow2,iRow3,iRow4,iRow5];
  iRows.forEach(function(r,i){
    var x = fx(r);
    var t = mk('line', g, {x1:x, x2:x, y1:546, y2:554, stroke:'#777', 'stroke-width':1.2});
    
    
    var l = label(g, x, 575, String(r), 12.8, LABEL);
    
    
    var wh = mk('path', g, {d:'M'+(x-4)+' '+fy(iWhiskLow[i])+'h8M'+x+' '+fy(iWhiskLow[i])+'V'+fy(iWhiskHigh[i])+'M'+(x-4)+' '+fy(iWhiskHigh[i])+'h8', fill:'none', stroke:'#555', 'stroke-width':1.1});
    
    
    var b = mk('rect', g, {x:x-bw/2, y:fy(iQ3[i]), width:bw, height:fy(iQ1[i])-fy(iQ3[i]), fill:'#fff', stroke:'#666', 'stroke-width':1.2});
    
    
    var m = mk('line', g, {x1:x-bw/2, x2:x+bw/2, y1:fy(iMedian[i]), y2:fy(iMedian[i]), stroke:'#777', 'stroke-width':1.1});
    
    
    var pts = rows[i];
    pts.forEach(function(v,k){
      var grp = pts.filter(function(w){return Math.abs(w-v)<=3;});
      var idx = pts.slice(0,k).filter(function(w){return Math.abs(w-v)<=3;}).length;
      var off = (idx-Math.floor(grp.length/2))*6;
      var c = mk('circle', g, {cx:x+off, cy:fy(v), r:3.2, fill:'#e2806a', stroke:'#6b5048', 'stroke-width':.7});
      
      
    });
  });
})();
</script>
</body>
</html>
